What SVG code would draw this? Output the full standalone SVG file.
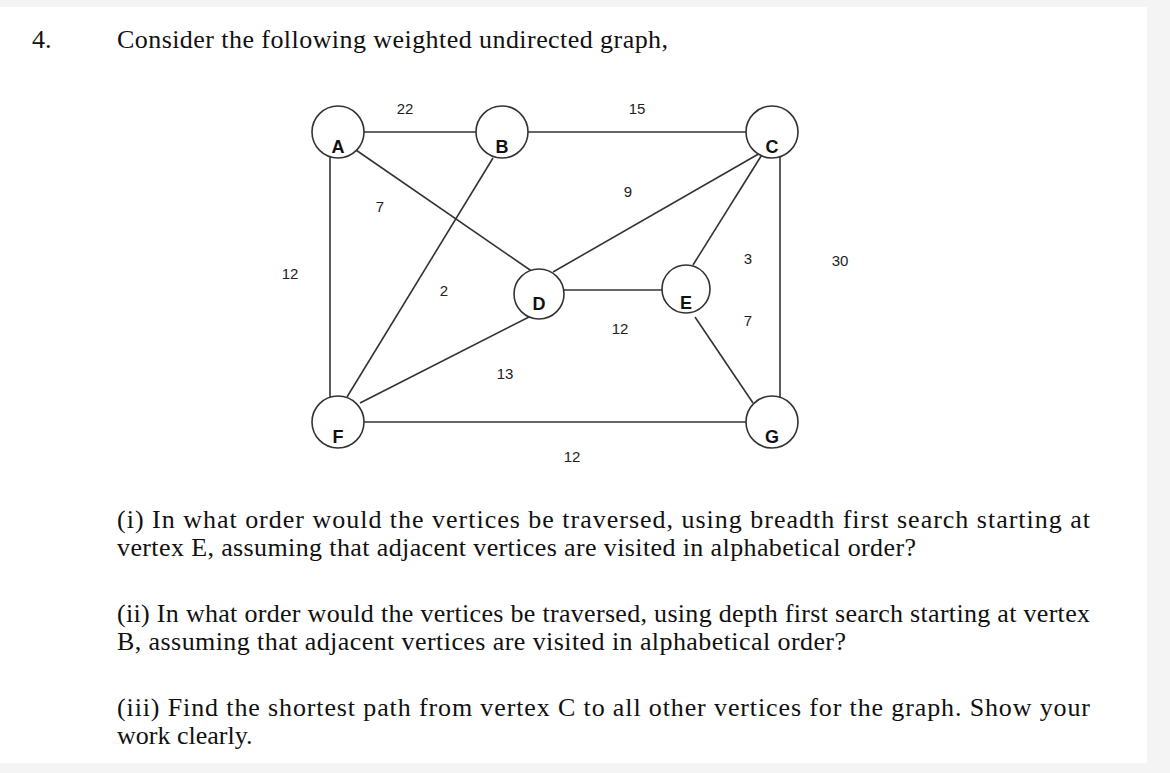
<svg xmlns="http://www.w3.org/2000/svg" width="1170" height="773" viewBox="0 0 1170 773">
<style>
.e{stroke:#333;stroke-width:1.6;fill:none}
.n{fill:#fff;stroke:#333;stroke-width:1.6}
.l{font-family:"Liberation Sans",Arial,sans-serif;font-size:15px;fill:#222;text-anchor:middle}
.v{font-family:"Liberation Sans",Arial,sans-serif;font-size:18px;font-weight:bold;fill:#111;text-anchor:middle}
.t{font-family:"Liberation Serif","Times New Roman",serif;font-size:26px;fill:#111}
</style>
<rect width="1170" height="773" fill="#f4f4f4"/>
<rect x="0" y="7" width="1147" height="756" fill="#fff"/>
<text class="t" x="32" y="48">4.</text>
<text class="t" x="117" y="48" textLength="551" lengthAdjust="spacing">Consider the following weighted undirected graph,</text>
<g id="edges">
<line class="e" x1="338" y1="132" x2="772" y2="132"/>
<line class="e" x1="330" y1="140" x2="330" y2="422"/>
<line class="e" x1="780" y1="140" x2="780" y2="422"/>
<line class="e" x1="338" y1="422" x2="772" y2="422"/>
<line class="e" x1="539" y1="290" x2="686" y2="290"/>
<line class="e" x1="353" y1="148" x2="533" y2="272"/>
<line class="e" x1="493" y1="158" x2="347" y2="397"/>
<line class="e" x1="553" y1="272" x2="762" y2="152"/>
<line class="e" x1="763" y1="153" x2="693" y2="265"/>
<line class="e" x1="695" y1="317" x2="753" y2="403"/>
<line class="e" x1="533" y1="315" x2="360" y2="403"/>
</g>
<g id="A"><circle class="n" cx="338" cy="132" r="26"/><text class="v" x="338" y="153">A</text></g>
<g id="B"><circle class="n" cx="502" cy="132" r="26"/><text class="v" x="502" y="153">B</text></g>
<g id="C"><circle class="n" cx="772" cy="132" r="26"/><text class="v" x="772" y="153">C</text></g>
<g id="D"><circle class="n" cx="539" cy="294" r="25"/><text class="v" x="539" y="310">D</text></g>
<g id="E"><circle class="n" cx="686" cy="289" r="24"/><text class="v" x="686" y="309">E</text></g>
<g id="F"><circle class="n" cx="338" cy="422" r="26"/><text class="v" x="338" y="443">F</text></g>
<g id="G"><circle class="n" cx="772" cy="422" r="26"/><text class="v" x="772" y="443">G</text></g>
<g id="labels">
<text class="l" x="405" y="114">22</text>
<text class="l" x="637" y="114">15</text>
<text class="l" x="380" y="212">7</text>
<text class="l" x="628" y="197">9</text>
<text class="l" x="444" y="296">2</text>
<text class="l" x="290" y="279">12</text>
<text class="l" x="748" y="264">3</text>
<text class="l" x="840" y="266">30</text>
<text class="l" x="620" y="334">12</text>
<text class="l" x="748" y="326">7</text>
<text class="l" x="505" y="379">13</text>
<text class="l" x="572" y="462">12</text>
</g>
<text class="t" x="117" y="528" textLength="973" lengthAdjust="spacing">(i) In what order would the vertices be traversed, using breadth first search starting at</text>
<text class="t" x="117" y="556" textLength="799" lengthAdjust="spacing">vertex E, assuming that adjacent vertices are visited in alphabetical order?</text>
<text class="t" x="117" y="622" textLength="973" lengthAdjust="spacing">(ii) In what order would the vertices be traversed, using depth first search starting at vertex</text>
<text class="t" x="117" y="650" textLength="729" lengthAdjust="spacing">B, assuming that adjacent vertices are visited in alphabetical order?</text>
<text class="t" x="117" y="716" textLength="973" lengthAdjust="spacing">(iii) Find the shortest path from vertex C to all other vertices for the graph. Show your</text>
<text class="t" x="117" y="744">work clearly.</text>
</svg>
